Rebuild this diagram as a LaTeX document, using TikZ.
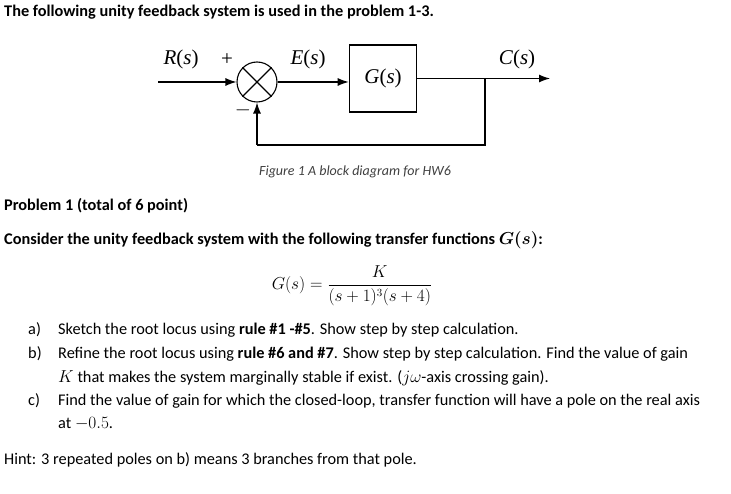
\documentclass[tikz,border=0pt]{standalone}
\usepackage{amsmath}
\usepackage{fontspec}
\setmainfont{Carlito}
\newfontfamily\tms{Liberation Serif}
\usetikzlibrary{arrows.meta}
\begin{document}
\begin{tikzpicture}[x=1pt,y=-1pt,
  txt/.style={anchor=west,inner sep=0pt,font=\fontsize{16.3}{19}\selectfont},
  dlab/.style={inner sep=0pt,font=\fontsize{21}{24}\selectfont\tms},
  sig/.style={line width=1.1pt,-{Latex[length=11pt,width=8pt]}},
  ln/.style={line width=1.1pt}]
\useasboundingbox (0,0) rectangle (731,494);
\node[txt,font=\fontsize{16.3}{19}\selectfont\bfseries] (title) at (4,12) {The following unity feedback system is used in the problem 1-3.};
% block diagram
\coordinate (in) at (158,82);
\node[draw,circle,line width=1.1pt,minimum size=40pt,inner sep=0pt] (sum) at (257,82) {};
\draw[line width=1.1pt] (sum.north west)--(sum.south east) (sum.north east)--(sum.south west);
\node[draw,line width=1.6pt,minimum width=67pt,minimum height=67pt] (G) at (383,78.5) {};
\node[dlab] (Gl) at (383,78) {\textit{G}(\textit{s})};
\coordinate (tap) at (485,78.5);
\coordinate (out) at (550,78.5);
\coordinate (fb) at (485,145);
\coordinate (fb2) at (257,145);
\draw[sig] (in) -- (sum.west);
\draw[sig] (sum.east) -- (G.west |- sum.east);
\draw[ln] (G.east) -- (tap);
\draw[sig] (tap) -- (out);
\draw[ln] (tap) -- (fb) -- (fb2);
\draw[sig] (fb2) -- (sum.south);
\node[dlab] (R) at (181,59) {\textit{R}(\textit{s})};
\node[dlab] (plus) at (227,60) {+};
\node[dlab] (E) at (308,59) {\textit{E}(\textit{s})};
\node[dlab] (C) at (517,59) {\textit{C}(\textit{s})};
\node[dlab] (minus) at (243,110) {$-$};
\node[inner sep=0pt,font=\fontsize{14}{16}\selectfont\itshape,text=black!75] (cap) at (355,172) {Figure 1 A block diagram for HW6};
% text
\node[txt,font=\fontsize{16.3}{19}\selectfont\bfseries] (p1) at (4,206) {Problem 1 (total of 6 point)};
\node[txt,font=\fontsize{16.3}{19}\selectfont\bfseries] (cons) at (4,240) {Consider the unity feedback system with the following transfer functions $\boldsymbol{G(s)}$:};
\node[inner sep=0pt,font=\fontsize{16}{19}\selectfont] (eq) at (352,286) {$G(s)=\dfrac{K}{(s+1)^3(s+4)}$};
\node[txt] (a) at (28,330) {a)};
\node[txt] (at) at (58,330) {Sketch the root locus using \textbf{rule \#1 -\#5}. Show step by step calculation.};
\node[txt] (b) at (28,354) {b)};
\node[txt] (bt) at (58,354) {Refine the root locus using \textbf{rule \#6 and \#7}. Show step by step calculation. Find the value of gain};
\node[txt] (bt2) at (58,378) {$K$ that makes the system marginally stable if exist. ($j\omega$-axis crossing gain).};
\node[txt] (c) at (28,401) {c)};
\node[txt] (ct) at (58,401) {Find the value of gain for which the closed-loop, transfer function will have a pole on the real axis};
\node[txt] (ct2) at (58,424) {at $-0.5$.};
\node[txt] (hint) at (4,460) {Hint: 3 repeated poles on b) means 3 branches from that pole.};
\end{tikzpicture}
\end{document}
